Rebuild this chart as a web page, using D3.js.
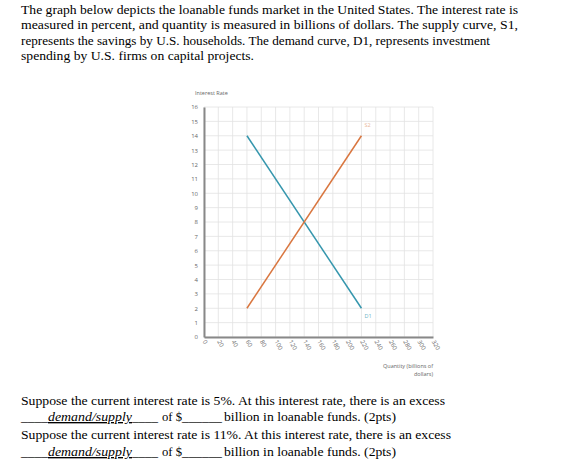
<!DOCTYPE html>
<head>
<meta charset="utf-8">
<script src="https://d3js.org/d3.v7.min.js"></script>
<style>
body { margin: 0; background: #fff; }
text.prose { font-family: "Liberation Serif", "Times New Roman", serif; font-size: 13.5px; fill: #000; }
text.small { font-family: "Open Sans", sans-serif; font-size: 5.5px; fill: #666; }
.grid line { stroke: #e2e2e2; stroke-width: 0.8; }
.axis path.domain { stroke: #888; stroke-width: 2; }
.axis .tick line { display: none; }
.axis .tick text { font-family: "Open Sans", sans-serif; font-size: 6px; fill: #666; }
</style>
</head>
<body>
<script>
const width = 574, height = 464;

// chart data
const quantityTicks = [0, 20, 40, 60, 80, 100, 120, 140, 160, 180, 200, 220, 240, 260, 280, 300, 320];
const rateTicks = [0, 1, 2, 3, 4, 5, 6, 7, 8, 9, 10, 11, 12, 13, 14, 15, 16];
const demandQuantity = [60, 220];
const demandRate = [14, 2];
const supplyQuantity = [60, 220];
const supplyRate = [2, 14];

const introLines = [
  "The graph below depicts the loanable funds market in the United States. The interest rate is",
  "measured in percent, and quantity is measured in billions of dollars. The supply curve, S1,",
  "represents the savings by U.S. households. The demand curve, D1, represents investment",
  "spending by U.S. firms on capital projects."
];

const svg = d3.select("body").append("svg")
  .attr("width", width)
  .attr("height", height);

// intro paragraph
const introY = [13.5, 29, 44.5, 60];
const introW = [497, 497, 469, 233];
introLines.forEach((t, i) => {
  svg.append("text").attr("class", "prose")
    .attr("x", 21).attr("y", introY[i])
    .attr("textLength", introW[i]).attr("lengthAdjust", "spacingAndGlyphs")
    .text(t);
});

// chart
const x = d3.scaleLinear().domain([0, 320]).range([204, 433]);
const y = d3.scaleLinear().domain([0, 16]).range([337, 107]);

const grid = svg.append("g").attr("class", "grid");
grid.selectAll("line.v").data(quantityTicks).enter().append("line")
  .attr("x1", d => x(d)).attr("x2", d => x(d))
  .attr("y1", y(0)).attr("y2", y(16));
grid.selectAll("line.h").data(rateTicks).enter().append("line")
  .attr("x1", x(0)).attr("x2", x(320))
  .attr("y1", d => y(d)).attr("y2", d => y(d));

svg.append("g").attr("class", "axis")
  .attr("transform", `translate(${x(0)},0)`)
  .call(d3.axisLeft(y).tickValues(rateTicks).tickSize(0).tickPadding(6).tickSizeOuter(0))
  .selectAll(".tick text").attr("dy", "0.32em");

svg.append("g").attr("class", "axis")
  .attr("transform", `translate(0,${y(0)})`)
  .call(d3.axisBottom(x).tickValues(quantityTicks).tickSize(0).tickPadding(4).tickSizeOuter(0))
  .selectAll(".tick text")
  .attr("transform", "rotate(60)")
  .attr("text-anchor", "start")
  .attr("x", 3).attr("y", 2).attr("dy", "0.32em");

const line = d3.line().x(d => x(d[0])).y(d => y(d[1]));

svg.append("path")
  .datum(demandQuantity.map((q, i) => [q, demandRate[i]]))
  .attr("d", line).attr("fill", "none")
  .attr("stroke", "#3596ad").attr("stroke-width", 1.5);

svg.append("path")
  .datum(supplyQuantity.map((q, i) => [q, supplyRate[i]]))
  .attr("d", line).attr("fill", "none")
  .attr("stroke", "#d9763f").attr("stroke-width", 1.5);

svg.append("text").attr("class", "small")
  .attr("x", x(220) + 3).attr("y", y(2) + 10)
  .style("fill", "#6fb3c6").text("D1");

svg.append("text").attr("class", "small")
  .attr("x", x(220) + 3).attr("y", y(14) - 9)
  .style("fill", "#ebb89a").text("S2");

svg.append("text").attr("class", "small")
  .attr("x", 195).attr("y", 95).text("Interest Rate");

svg.append("text").attr("class", "small")
  .attr("x", 433).attr("y", 368).attr("text-anchor", "end").text("Quantity (billions of");
svg.append("text").attr("class", "small")
  .attr("x", 433).attr("y", 376).attr("text-anchor", "end").text("dollars)");

// questions
const q1 = "Suppose the current interest rate is 5%. At this interest rate, there is an excess";
const q2 = "Suppose the current interest rate is 11%. At this interest rate, there is an excess";

svg.append("text").attr("class", "prose").attr("x", 21).attr("y", 405)
  .attr("textLength", 424).attr("lengthAdjust", "spacingAndGlyphs").text(q1);
svg.append("text").attr("class", "prose").attr("x", 21).attr("y", 439)
  .attr("textLength", 430).attr("lengthAdjust", "spacingAndGlyphs").text(q2);

function blankLine(yy) {
  const parts = [
    {t: "____", x: 21, w: 27},
    {t: "demand/supply", x: 48, w: 84, italic: true},
    {t: "____", x: 132, w: 26},
    {t: "of $", x: 162, w: 20},
    {t: "______", x: 182, w: 40},
    {t: "billion in loanable funds. (2pts)", x: 224, w: 172}
  ];
  parts.forEach(p => {
    const el = svg.append("text").attr("class", "prose")
      .attr("x", p.x).attr("y", yy)
      .attr("textLength", p.w).attr("lengthAdjust", "spacingAndGlyphs")
      .text(p.t);
    if (p.italic) el.style("font-style", "italic").style("text-decoration", "underline");
  });
}
blankLine(421);
blankLine(456);
</script>
</body>
